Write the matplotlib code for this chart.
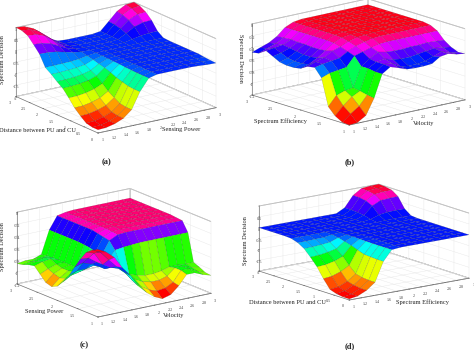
"""
Spectrum decision surfaces, four panels
"""
import matplotlib
matplotlib.use('Agg')
import matplotlib.pyplot as plt
import numpy as np
from mpl_toolkits.mplot3d import proj3d

plt.rcParams['font.family'] = ['Liberation Serif', 'DejaVu Serif']

W, H = 474, 350

range_1_3 = [1, 1.14, 1.29, 1.43, 1.57, 1.71, 1.86, 2, 2.14, 2.29, 2.43, 2.57, 2.71, 2.86, 3]
range_0_3 = [0, 0.21, 0.43, 0.64, 0.86, 1.07, 1.29, 1.5, 1.71, 1.93, 2.14, 2.36, 2.57, 2.79, 3]

xticks = [1, 1.2, 1.4, 1.6, 1.8, 2, 2.2, 2.4, 2.6, 2.8, 3]
xlabels = ['1', '1.2', '1.4', '1.6', '1.8', '2', '2.2', '2.4', '2.6', '2.8', '3']
yticks_wide = [0, 0.5, 1, 1.5, 2, 2.5, 3]
ylabels_wide = ['0', '0.5', '1', '1.5', '2', '2.5', '3']
yticks_narrow = [1, 1.5, 2, 2.5, 3]
ylabels_narrow = ['1', '1.5', '2', '2.5', '3']
zticks_a = [-2, -1.5, -1, -0.5, 0, 0.5, 1]
zlabels_a = ['-2', '-1.5', '-1', '-0.5', '0', '0.5', '1']
zlabels_d = ['-2', '-1.5', '-1', '-0.5', '0', '0.5', '']
zticks_b = [-1.2, -1, -0.8, -0.6, -0.4, -0.2, 0]
zlabels_b = ['-1.2', '-1', '-0.8', '-0.6', '-0.4', '-0.2', '0']

# -- rows go along the front-right axis, columns along the front-left axis
decision_a = [
    [-1.86, -1.86, -1.8, -1.6, -1.36, -1.04, -.74, -.56, -.35, -.17, .3, .6, .87, .98, 1],
    [-1.84, -1.84, -1.78, -1.58, -1.35, -1.03, -.73, -.55, -.35, -.17, .29, .58, .85, .95, .97],
    [-1.75, -1.75, -1.69, -1.5, -1.28, -.98, -.7, -.53, -.33, -.16, .24, .48, .7, .78, .8],
    [-1.6, -1.6, -1.55, -1.38, -1.17, -.89, -.64, -.48, -.3, -.15, .15, .3, .43, .49, .5],
    [-1.3, -1.3, -1.26, -1.12, -.95, -.73, -.52, -.39, -.25, -.12, .06, .12, .17, .2, .2],
    [-.6, -.6, -.58, -.51, -.44, -.33, -.24, -.18, -.11, -.05, .01, .02, .03, .03, .03],
    [-.09, -.09, -.09, -.08, -.07, -.05, -.04, -.03, -.02, -.01, 0, 0, 0, 0, 0],
    [0, 0, 0, 0, 0, 0, 0, 0, 0, 0, 0, 0, 0, 0, 0],
    [0, 0, 0, 0, 0, 0, 0, 0, 0, 0, 0, 0, 0, 0, 0],
    [0, 0, 0, 0, 0, 0, 0, 0, 0, 0, 0, 0, 0, 0, 0],
    [0, 0, 0, 0, 0, 0, 0, 0, 0, 0, .01, .03, .04, .05, .05],
    [0, 0, 0, 0, 0, 0, 0, 0, 0, .01, .08, .22, .32, .38, .4],
    [-.02, -.02, -.01, 0, 0, 0, 0, 0, 0, .02, .15, .43, .61, .72, .76],
    [-.05, -.04, -.02, 0, 0, 0, 0, 0, 0, .02, .19, .54, .78, .92, .97],
    [-.06, -.05, -.03, 0, 0, 0, 0, 0, 0, .02, .2, .56, .8, .95, 1],
]

decision_b = [
    [-1.2, -1.19, -1.12, -1, -.55, -.41, -.43, -.5, -.52, -.52, -.5, -.44, -.38, -.46, -.48],
    [-1.19, -1.08, -.98, -.84, -.5, -.38, -.38, -.46, -.48, -.48, -.46, -.41, -.36, -.41, -.43],
    [-1.1, -.98, -.86, -.79, -.48, -.36, -.34, -.38, -.4, -.4, -.38, -.36, -.34, -.36, -.38],
    [-.84, -.82, -.79, -.77, -.46, -.34, -.26, -.29, -.3, -.3, -.29, -.29, -.28, -.29, -.3],
    [-.46, -.46, -.44, -.44, -.3, -.26, -.22, -.19, -.18, -.18, -.18, -.18, -.18, -.18, -.18],
    [-.37, -.36, -.36, -.34, -.26, -.2, -.16, -.13, -.12, -.12, -.12, -.12, -.12, -.12, -.12],
    [-.42, -.38, -.34, -.26, -.22, -.16, -.12, -.11, -.1, -.1, -.1, -.1, -.1, -.1, -.1],
    [-.47, -.46, -.38, -.29, -.19, -.13, -.11, -.1, -.1, -.1, -.1, -.1, -.1, -.1, -.1],
    [-.48, -.48, -.4, -.3, -.18, -.12, -.1, -.1, -.1, -.1, -.1, -.1, -.1, -.1, -.1],
    [-.48, -.48, -.4, -.3, -.18, -.12, -.1, -.1, -.1, -.1, -.1, -.1, -.1, -.1, -.1],
    [-.47, -.46, -.38, -.29, -.18, -.12, -.1, -.1, -.1, -.1, -.1, -.1, -.1, -.1, -.1],
    [-.38, -.41, -.36, -.29, -.18, -.12, -.1, -.1, -.1, -.1, -.1, -.1, -.1, -.1, -.1],
    [-.36, -.36, -.34, -.28, -.18, -.12, -.1, -.1, -.1, -.1, -.1, -.1, -.1, -.1, -.1],
    [-.4, -.41, -.36, -.29, -.18, -.12, -.1, -.1, -.1, -.1, -.1, -.1, -.1, -.1, -.1],
    [-.42, -.43, -.38, -.3, -.18, -.12, -.1, -.1, -.1, -.1, -.1, -.1, -.1, -.1, -.1],
]

decision_c = [
    [-.07, -.12, -.2, -.35, -.52, -.7, -.85, -.96, -1.01, -.98, -.88, -.78, -.8, -.84, -.86],
    [-.14, -.18, -.24, -.36, -.48, -.65, -.77, -.86, -.89, -.86, -.82, -.74, -.77, -.82, -.84],
    [-.26, -.34, -.46, -.46, -.53, -.65, -.74, -.78, -.8, -.8, -.77, -.72, -.74, -.79, -.84],
    [-.46, -.48, -.54, -.6, -.6, -.62, -.7, -.74, -.77, -.77, -.77, -.77, -.77, -.78, -.79],
    [-.62, -.6, -.58, -.58, -.54, -.48, -.46, -.43, -.42, -.41, -.41, -.41, -.41, -.41, -.41],
    [-.82, -.77, -.7, -.62, -.38, -.26, -.24, -.22, -.2, -.2, -.2, -.2, -.2, -.2, -.2],
    [-.96, -.9, -.82, -.77, -.36, -.19, -.18, -.17, -.17, -.17, -.17, -.17, -.17, -.17, -.17],
    [-1.06, -.98, -.89, -.82, -.35, -.18, -.17, -.16, -.16, -.16, -.16, -.16, -.16, -.16, -.16],
    [-1.12, -1.03, -.92, -.85, -.34, -.18, -.17, -.16, -.16, -.16, -.16, -.16, -.16, -.16, -.16],
    [-1.08, -1.01, -.92, -.85, -.34, -.18, -.17, -.16, -.16, -.16, -.16, -.16, -.16, -.16, -.16],
    [-.96, -.94, -.88, -.83, -.34, -.18, -.17, -.16, -.16, -.16, -.16, -.16, -.16, -.16, -.16],
    [-.8, -.77, -.77, -.79, -.34, -.18, -.17, -.16, -.16, -.16, -.16, -.16, -.16, -.16, -.16],
    [-.8, -.77, -.77, -.79, -.34, -.18, -.17, -.16, -.16, -.16, -.16, -.16, -.16, -.16, -.16],
    [-.86, -.84, -.82, -.8, -.34, -.18, -.17, -.16, -.16, -.16, -.16, -.16, -.16, -.16, -.16],
    [-.9, -.89, -.84, -.8, -.34, -.18, -.17, -.16, -.16, -.16, -.16, -.16, -.16, -.16, -.16],
]

decision_d = [
    [-1.95, -1.95, -1.9, -1.8, -1.4, -.95, -.6, -.3, -.12, -.02, 0, 0, 0, 0, 0],
    [-1.89, -1.89, -1.84, -1.75, -1.36, -.92, -.58, -.29, -.12, -.02, 0, 0, 0, 0, 0],
    [-1.7, -1.7, -1.65, -1.57, -1.22, -.83, -.52, -.26, -.1, -.02, 0, 0, 0, 0, 0],
    [-1.4, -1.4, -1.37, -1.3, -1.01, -.68, -.43, -.22, -.09, -.01, 0, 0, 0, 0, 0],
    [-.51, -.51, -.49, -.47, -.36, -.25, -.16, -.08, -.03, -.01, 0, 0, 0, 0, 0],
    [-.04, -.04, -.04, -.04, -.03, -.02, -.01, -.01, 0, 0, 0, 0, 0, 0, 0],
    [0, 0, 0, 0, 0, 0, 0, 0, 0, 0, 0, 0, 0, 0, 0],
    [0, 0, 0, 0, 0, 0, 0, 0, 0, 0, 0, 0, 0, 0, 0],
    [0, 0, 0, 0, 0, 0, 0, 0, 0, 0, 0, 0, 0, 0, 0],
    [0, 0, 0, 0, 0, 0, 0, 0, 0, 0, 0, 0, 0, 0, 0],
    [0, 0, 0, 0, 0, 0, 0, 0, 0, .01, .05, .14, .18, .2, .2],
    [0, 0, 0, 0, 0, 0, 0, 0, 0, .02, .18, .5, .64, .69, .7],
    [0, 0, 0, 0, 0, 0, 0, 0, 0, .03, .24, .68, .87, .93, .95],
    [0, 0, 0, 0, 0, 0, 0, 0, 0, .03, .25, .71, .91, .97, .99],
    [0, 0, 0, 0, 0, 0, 0, 0, 0, .03, .25, .72, .92, .98, 1],
]

fig = plt.figure(figsize=(W / 100, H / 100), dpi=100)


def place(ax, left, right, bottom, zlo, ylo, xlo=1, xhi=3, yhi=3):
    # -- move the 3D box so that its floor corners land on the wanted pixels
    s0 = 300
    ax.set_position([(W - s0) / 2 / W, (H - s0) / 2 / H, s0 / W, s0 / H])
    ax.apply_aspect()
    proj = ax.get_proj()
    def pix(x, y, z):
        x2, y2, _ = proj3d.proj_transform(x, y, z, proj)
        return ax.transData.transform((x2, y2))
    p_left = pix(xlo, yhi, zlo)
    p_right = pix(xhi, ylo, zlo)
    p_front = pix(xlo, ylo, zlo)
    s = s0 * (right - left) / (p_right[0] - p_left[0])
    k = s / s0
    cx = left - (p_left[0] - W / 2) * k
    cy = (H - bottom) - (p_front[1] - H / 2) * k
    ax.set_position([(cx - s / 2) / W, (cy - s / 2) / H, s / W, s / H])


def panel(z, ys, yticks, ylabels, zticks, zlabels, azim, elev, hfrac, box, vmin, vmax):
    ax = fig.add_axes([0, 0, 1, 1], projection='3d', proj_type='ortho')
    ax.set_facecolor('none')
    zz = np.array(z)
    xx, yy = np.meshgrid(range_1_3, ys, indexing='ij')
    colors = plt.cm.hsv(np.clip((zz - vmin) / (vmax - vmin), 0, 1))
    surf = ax.plot_surface(xx, yy, zz, facecolors=colors, rstride=1, cstride=1,
                           shade=False, linewidth=0.2, antialiased=True)
    surf.set_edgecolor((0.1, 0.1, 0.1, 0.4))
    ax.set_xlim(1, 3)
    ax.set_ylim(ys[0], 3)
    ax.set_zlim(zticks[0], zticks[-1])
    ax.set_xticks(xticks)
    ax.set_xticklabels(xlabels)
    ax.set_yticks(yticks)
    ax.set_yticklabels(ylabels)
    ax.set_zticks(zticks)
    ax.set_zticklabels(zlabels)
    for a in (ax.xaxis, ax.yaxis, ax.zaxis):
        a.set_pane_color((1, 1, 1, 1))
        a.pane.set_edgecolor('#9a9a9a')
        a.pane.set_linewidth(0.6)
        a.line.set_color('#777777')
        a.line.set_linewidth(0.5)
        a._axinfo['grid'].update(color='#e6e6e6', linewidth=0.3)
        a._axinfo['tick']['inward_factor'] = 0.05
        a._axinfo['tick']['outward_factor'] = 0.05
        a._axinfo['tick'].update(linewidth={True: 0.3, False: 0.2})
    ax.tick_params(labelsize=3, pad=-4, colors='#444444')
    ax.tick_params(axis='z', pad=-8)
    ax.view_init(elev=elev, azim=azim)
    ax.set_box_aspect((1, 1, hfrac))
    place(ax, box[0], box[1], box[2], zticks[0], ys[0])
    return ax


panel(decision_a, range_0_3, yticks_wide, ylabels_wide, zticks_a, zlabels_a,
      -124.8, 18, 0.505, (16, 216, 133), -1.86, 1.0)
panel(decision_b, range_1_3, yticks_narrow, ylabels_narrow, zticks_b, zlabels_b,
      -130, 15, 0.487, (252, 465, 125), -1.2, -0.1)
panel(decision_c, range_1_3, yticks_narrow, ylabels_narrow, zticks_b, zlabels_b,
      -125.6, 17, 0.54, (17, 211, 317), -1.12, -0.1)
panel(decision_d, range_0_3, yticks_wide, ylabels_wide, zticks_a, zlabels_d,
      -127, 14, 0.447, (259, 469, 300), -1.95, 1.0)


def label(x, y, text, rotation=0, size=4.6, weight='normal'):
    fig.text(x / W, 1 - y / H, text, rotation=rotation, fontsize=size, weight=weight,
             ha='center', va='center', color='#222222')


label(37, 130, 'Distance between PU and CU')
label(181, 130, 'Sensing Power')
label(3, 60, 'Spectrum Decision', rotation=90)
label(106, 162, '(a)', size=6, weight='bold')

label(281, 121, 'Spectrum Efficiency')
label(424, 124, 'Velocity')
label(241, 58, 'Spectrum Decision', rotation=-90)
label(350, 162, '(b)', size=6, weight='bold')

label(44, 312, 'Sensing Power')
label(174, 315, 'Velocity')
label(3, 247, 'Spectrum Decision', rotation=90)
label(84, 345, '(c)', size=6, weight='bold')

label(287, 302, 'Distance between PU and CU')
label(422, 302, 'Spectrum Efficiency')
label(246, 241, 'Spectrum Decision', rotation=90)
label(350, 346, '(d)', size=6, weight='bold')

fig.savefig('out.png', dpi=100)
